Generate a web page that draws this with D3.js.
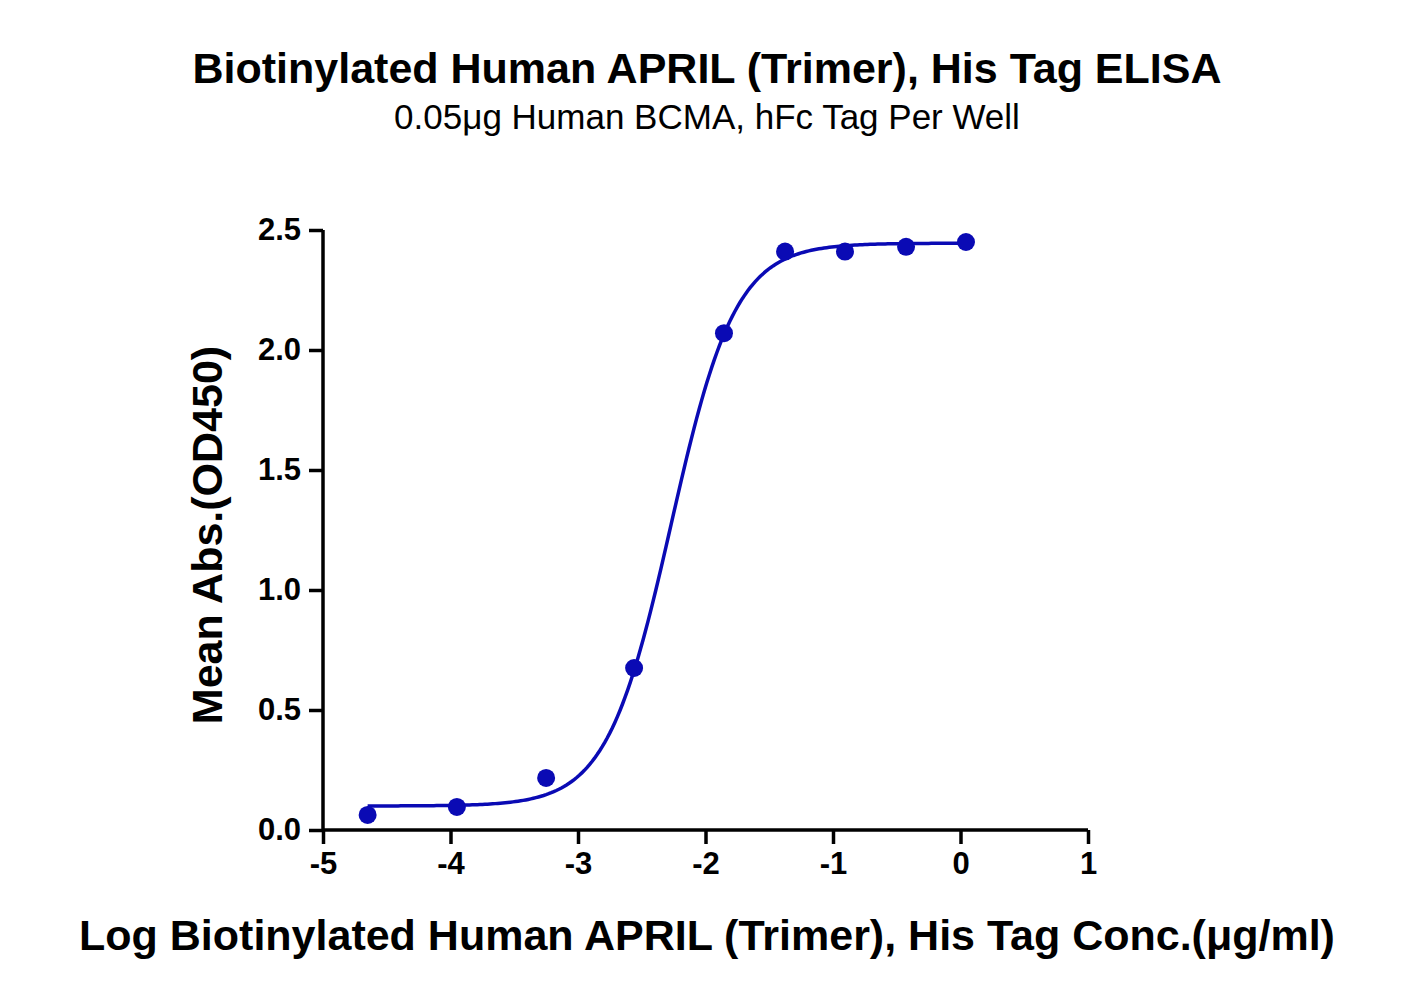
<!DOCTYPE html>
<html>
<head>
<script src="https://d3js.org/d3.v7.min.js"></script>
<style>body{margin:0;background:#fff}text{font-family:Arial,"Liberation Sans",sans-serif}</style>
</head>
<body>
<script>
var logConc = [-4.65, -3.95, -3.25, -2.56, -1.855, -1.376, -0.906, -0.427, 0.043];
var absorb = [0.063, 0.096, 0.217, 0.675, 2.07, 2.41, 2.41, 2.43, 2.45];
var xTicks = [-5, -4, -3, -2, -1, 0, 1];
var yTicks = [0, 0.5, 1, 1.5, 2, 2.5];
// 4PL fit parameters
var fitBottom = 0.1, fitTop = 2.445, logEC50 = -2.27, hill = 1.72;

var svg = d3.select('body').append('svg').attr('width', 1414).attr('height', 1004);
var x = d3.scaleLinear().domain([-5, 1]).range([323, 1088]);
var y = d3.scaleLinear().domain([0, 2.5]).range([830, 230]);

svg.append('text').attr('x', 707).attr('y', 83).attr('text-anchor', 'middle')
  .style('font-size', '43px').style('font-weight', 'bold')
  .text('Biotinylated Human APRIL (Trimer), His Tag ELISA');
svg.append('text').attr('x', 707).attr('y', 129).attr('text-anchor', 'middle')
  .style('font-size', '35px').text('0.05μg Human BCMA, hFc Tag Per Well');

var xa = svg.append('g').attr('transform', 'translate(0,830)')
  .call(d3.axisBottom(x).tickValues(xTicks).tickFormat(function (d) { return String(d); }).tickSize(14).tickPadding(8));
var ya = svg.append('g').attr('transform', 'translate(323,0)')
  .call(d3.axisLeft(y).tickValues(yTicks).tickFormat(function (d) { return d.toFixed(1); }).tickSize(14).tickPadding(8));
[xa, ya].forEach(function (a) {
  a.selectAll('path,line').attr('stroke', '#000').attr('stroke-width', 3.5);
  a.select('.domain').attr('d', a === xa ? 'M323,0H1088' : 'M0,830V230');
  a.selectAll('text').style('font-size', '31px').style('font-weight', 'bold').attr('fill', '#000');
});

svg.append('text').attr('x', 707).attr('y', 950).attr('text-anchor', 'middle')
  .style('font-size', '43px').style('font-weight', 'bold')
  .text('Log Biotinylated Human APRIL (Trimer), His Tag Conc.(μg/ml)');
svg.append('text').attr('transform', 'translate(222,535) rotate(-90)').attr('text-anchor', 'middle')
  .style('font-size', '43px').style('font-weight', 'bold').text('Mean Abs.(OD450)');

var curveX = d3.range(logConc[0], logConc[logConc.length - 1] + 0.001, 0.02);
var line = d3.line().x(function (d) { return x(d); })
  .y(function (d) { return y(fitBottom + (fitTop - fitBottom) / (1 + Math.pow(10, (logEC50 - d) * hill))); });
svg.append('path').datum(curveX).attr('d', line).attr('fill', 'none')
  .attr('stroke', '#0a0ab4').attr('stroke-width', 3.5);

svg.selectAll('circle.pt').data(logConc).enter().append('circle')
  .attr('cx', function (d) { return x(d); })
  .attr('cy', function (d, i) { return y(absorb[i]); })
  .attr('r', 9).attr('fill', '#0a0ab4');
</script>
</body>
</html>
